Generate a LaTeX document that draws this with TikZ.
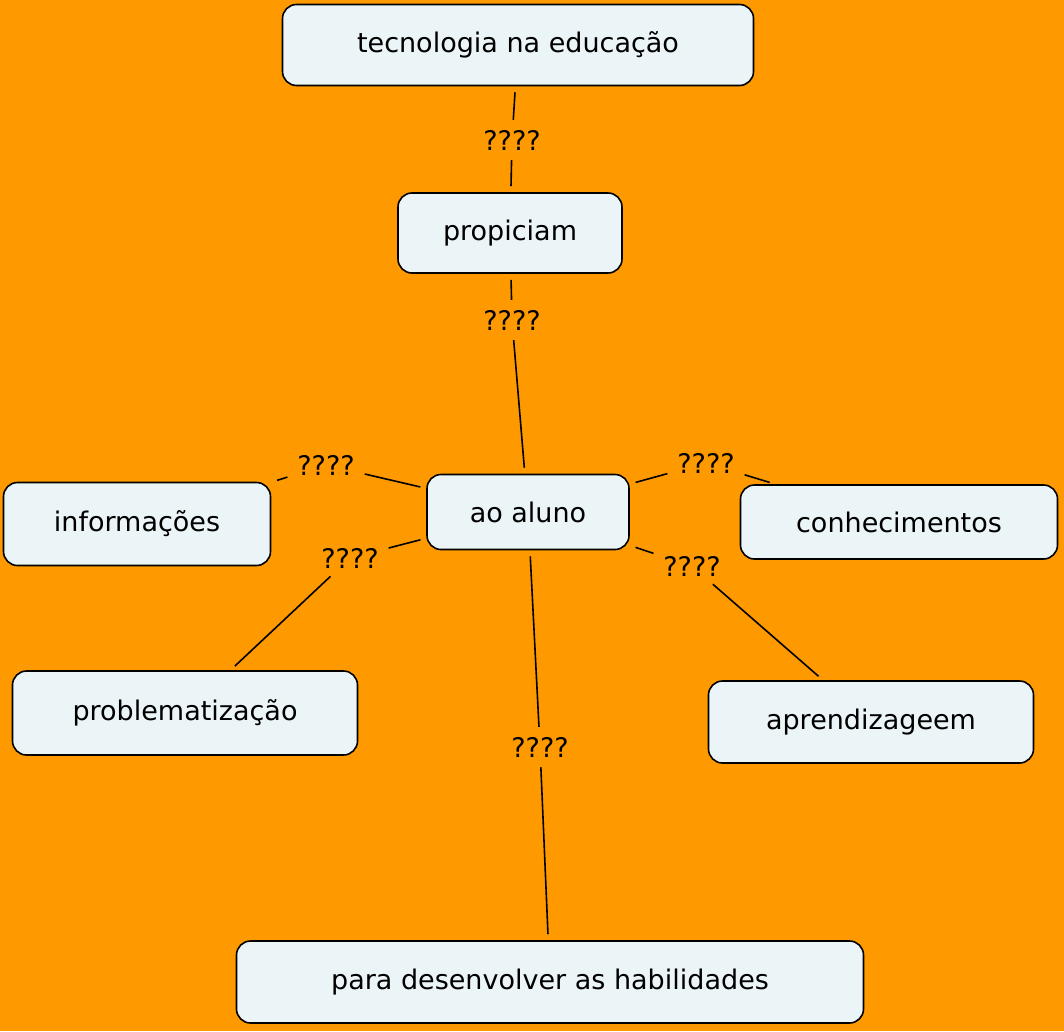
\documentclass[tikz,border=0pt]{standalone}
\usepackage{fontspec}
\setmainfont{DejaVu Sans}
\definecolor{bg}{HTML}{FF9900}
\definecolor{nf}{HTML}{EBF4F7}
\begin{document}
\begin{tikzpicture}[x=1pt,y=-1pt,
 box/.style={draw=black,line width=1.6pt,fill=nf,rounded corners=14pt,font=\fontsize{27}{32}\selectfont,inner sep=0pt},
 lab/.style={font=\fontsize{27}{32}\selectfont,inner sep=4pt},
 con/.style={line width=1.6pt,shorten >=6pt,shorten <=6pt}]
\fill[bg] (0,0) rectangle (1064,1031);
\useasboundingbox (0,0) rectangle (1064,1031);
\node[box,minimum width=471,minimum height=81] (tec) at (518,45) {tecnologia na educação};
\node[box,minimum width=224,minimum height=80] (pro) at (510,233) {propiciam};
\node[box,minimum width=202,minimum height=75] (alu) at (528,512) {ao aluno};
\node[box,minimum width=267,minimum height=83] (inf) at (137,524) {informações};
\node[box,minimum width=317,minimum height=74] (con) at (899,522) {conhecimentos};
\node[box,minimum width=345,minimum height=84] (prb) at (185,713) {problematização};
\node[box,minimum width=325,minimum height=82] (apr) at (871,722) {aprendizageem};
\node[box,minimum width=627,minimum height=82] (par) at (550,982) {para desenvolver as habilidades};
\node[lab] (l1) at (512,140) {????};
\node[lab] (l2) at (512,320) {????};
\node[lab] (l3) at (326,465) {????};
\node[lab] (l4) at (350,558) {????};
\node[lab] (l5) at (706,463) {????};
\node[lab] (l6) at (692,566) {????};
\node[lab] (l7) at (540,747) {????};
\draw[con] (tec) -- (l1); \draw[con] (l1) -- (pro);
\draw[con] (pro) -- (l2); \draw[con] (l2) -- (alu);
\draw[con] (alu) -- (l3); \draw[con] (l3) -- (inf);
\draw[con] (alu) -- (l4); \draw[con] (l4) -- (prb);
\draw[con] (alu) -- (l5); \draw[con] (l5) -- (con);
\draw[con] (alu) -- (l6); \draw[con] (l6) -- (apr);
\draw[con] (alu) -- (l7); \draw[con] (l7) -- (par);
\end{tikzpicture}
\end{document}
